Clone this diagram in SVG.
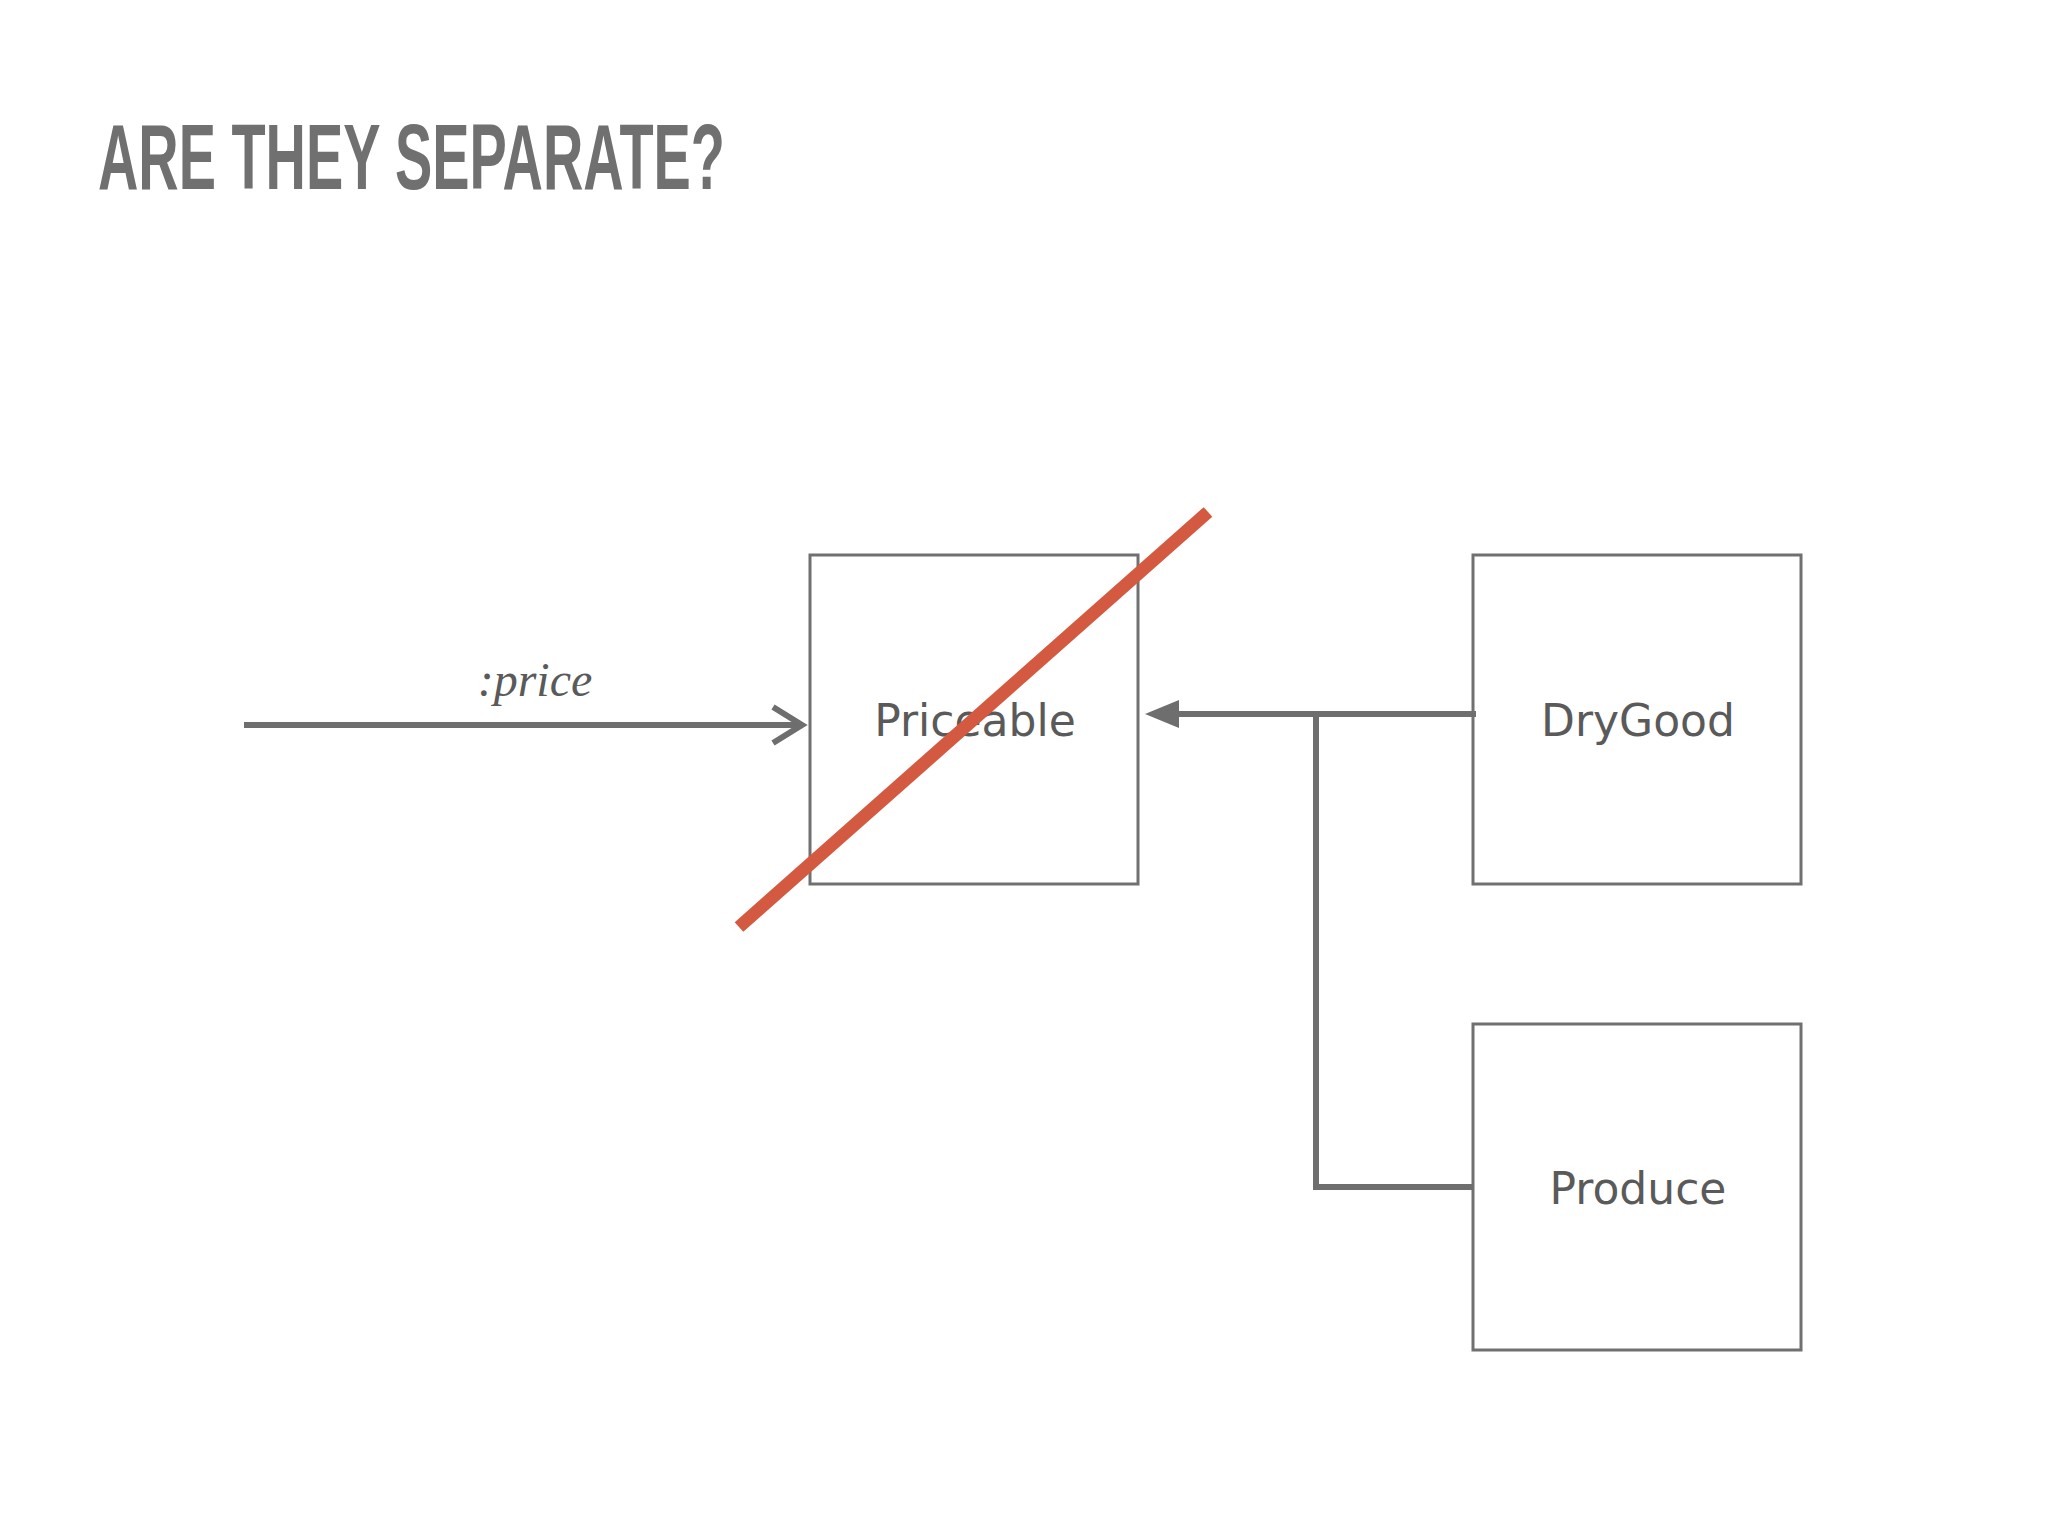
<svg xmlns="http://www.w3.org/2000/svg" width="2048" height="1536" viewBox="0 0 2048 1536">
<style>
.box{fill:#fff;stroke:#707070;stroke-width:3}
.lbl{font-family:"DejaVu Sans","Liberation Sans",sans-serif;font-size:44px;fill:#5a5a5a;text-anchor:middle}
.ln{stroke:#6e6e6e;stroke-width:6;fill:none}
</style>
<rect width="2048" height="1536" fill="#fff"/>
<text x="98" y="189" font-family="Liberation Sans,sans-serif" font-weight="bold" font-size="92" fill="#707070" textLength="627" lengthAdjust="spacingAndGlyphs">ARE THEY SEPARATE?</text>
<g id="priceable"><rect class="box" x="810" y="555" width="328" height="329"/><text class="lbl" x="975" y="736">Priceable</text></g>
<g id="drygood"><rect class="box" x="1473" y="555" width="328" height="329"/><text class="lbl" x="1638" y="736">DryGood</text></g>
<g id="produce"><rect class="box" x="1473" y="1024" width="328" height="326"/><text class="lbl" x="1638" y="1204">Produce</text></g>
<g id="connectors">
<line class="ln" x1="244" y1="725" x2="800" y2="725"/>
<polyline class="ln" points="773,707 802,725 773,743"/>
<text x="535" y="696" font-family="Liberation Serif,serif" font-style="italic" font-size="48" fill="#5a5a5a" text-anchor="middle">:price</text>
<line class="ln" x1="1476" y1="714" x2="1176" y2="714"/>
<polygon points="1145,714 1179,700 1179,728" fill="#6e6e6e"/>
<line class="ln" x1="1316" y1="714" x2="1316" y2="1190"/>
<line class="ln" x1="1316" y1="1187" x2="1473" y2="1187"/>
</g>
<line x1="1208" y1="512" x2="739" y2="927" stroke="#d35a40" stroke-width="13"/>
</svg>
